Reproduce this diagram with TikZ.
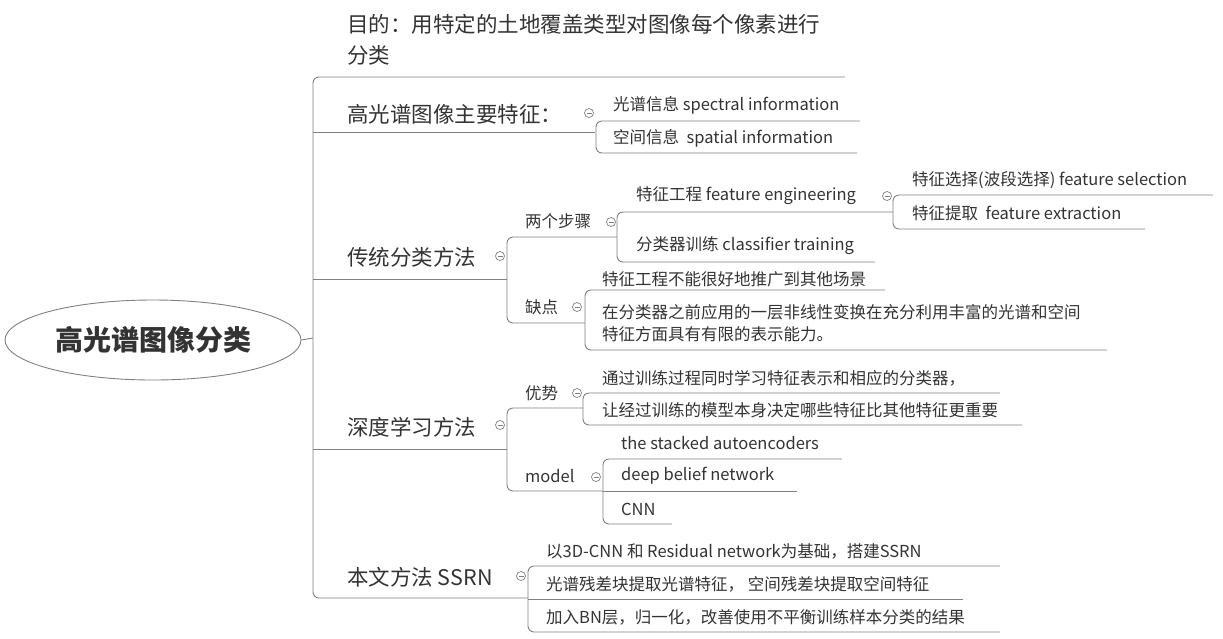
\documentclass[tikz,border=0pt]{standalone}
\usepackage{fontspec}
\usetikzlibrary{shapes.geometric}
\setmainfont{Noto Sans CJK SC}
\newfontfamily\cjk{Noto Sans CJK SC}
\definecolor{txt}{HTML}{333333}
\definecolor{ln}{HTML}{808080}
\begin{document}
\begin{tikzpicture}[x=1pt,y=-1pt,
  big/.style={anchor=west,inner sep=0,text=txt,font=\cjk\fontsize{21.5}{25}\selectfont,align=left},
  sm/.style={anchor=west,inner sep=0,text=txt,font=\cjk\fontsize{16.5}{22}\selectfont,align=left},
  br/.style={draw=ln,line width=0.9pt,rounded corners=6},
  ul/.style={draw=ln,line width=0.9pt}]
\useasboundingbox (0,0) rectangle (1223,638);
\newcommand{\mcol}[2]{\draw[ln,line width=0.7pt,fill=white] (#1,#2) circle (4.5); \draw[ln,line width=0.7pt] (#1-2.5,#2) -- (#1+2.5,#2);}
% root
\node[ellipse,draw=ln,line width=0.9pt,minimum width=296,minimum height=80,inner sep=0,text=txt,font=\cjk\bfseries\fontsize{28}{28}\selectfont] (root) at (153,340) {高光谱图像分类};
\draw[ul] (root.east) -- (313,338);
% main bracket
\draw[br] (845,77) -- (313,77) -- (313,598) -- (528,598);
\draw[ul] (313,132) -- (595,132);
\draw[ul] (313,279) -- (507,279);
\draw[ul] (313,449) -- (507,449);
\node[big] (g) at (347,24) {目的：用特定的土地覆盖类型对图像每个像素进行};
\node[big] (g2) at (347,55) {分类};
\node[big] (a) at (347,114) {高光谱图像主要特征：};
\node[big] (b) at (347,257) {传统分类方法};
\node[big] (c) at (347,427) {深度学习方法};
\node[big] (d) at (347,577) {本文方法 SSRN};
% a
\draw[br] (860,121) -- (596,121) -- (596,153) -- (857,153);
\node[sm] (a1) at (613,105) {光谱信息 spectral information};
\node[sm] (a2) at (613,138) {空间信息\ \ spatial information};
\mcol{589}{113}
% b
\draw[br] (617,237) -- (507,237) -- (507,323) -- (585,323);
\node[sm] (b1) at (525,221) {两个步骤};
\node[sm] (b2) at (525,307) {缺点};
\mcol{500}{256}
\draw[br] (893,212) -- (617,212) -- (617,262) -- (875,262);
\node[sm] (b11) at (636,196) {特征工程 feature engineering};
\node[sm] (b12) at (636,246) {分类器训练 classifier training};
\mcol{611}{222}
\draw[br] (1213,195) -- (893,195) -- (893,229) -- (1145,229);
\node[sm] (b111) at (912,180) {特征选择(波段选择) feature selection};
\node[sm] (b112) at (912,213) {特征提取\ \ feature extraction};
\mcol{887}{196}
\draw[br] (885,290) -- (585,290) -- (585,350) -- (1107,350);
\node[sm] (b21) at (602,279) {特征工程不能很好地推广到其他场景};
\node[sm] (b22) at (602,323) {在分类器之前应用的一层非线性变换在充分利用丰富的光谱和空间\\特征方面具有有限的表示能力。};
\mcol{577}{307}
% c
\draw[br] (583,408) -- (507,408) -- (507,491) -- (603,491);
\node[sm] (c1) at (525,393) {优势};
\node[sm] (c2) at (525,476) {model};
\mcol{500}{425}
\draw[br] (1000,393) -- (583,393) -- (583,425) -- (1022,425);
\node[sm] (c11) at (602,378) {通过训练过程同时学习特征表示和相应的分类器，};
\node[sm] (c12) at (602,410) {让经过训练的模型本身决定哪些特征比其他特征更重要};
\mcol{577}{393}
\draw[br] (842,459) -- (603,459) -- (603,524) -- (672,524);
\draw[ul] (603,491) -- (797,491);
\node[sm] (c21) at (621,443) {the stacked autoencoders};
\node[sm] (c22) at (621,476) {deep belief network};
\node[sm] (c23) at (621,509) {CNN};
\mcol{596}{477}
% d
\draw[br] (1000,566) -- (528,566) -- (528,632) -- (1000,632);
\draw[ul] (528,599) -- (963,599);
\node[sm] (d1) at (546,551) {以3D-CNN 和 Residual network为基础，搭建SSRN};
\node[sm] (d2) at (546,584) {光谱残差块提取光谱特征， 空间残差块提取空间特征};
\node[sm] (d3) at (546,617) {加入BN层，归一化，改善使用不平衡训练样本分类的结果};
\mcol{521}{576}
\end{tikzpicture}
\end{document}
